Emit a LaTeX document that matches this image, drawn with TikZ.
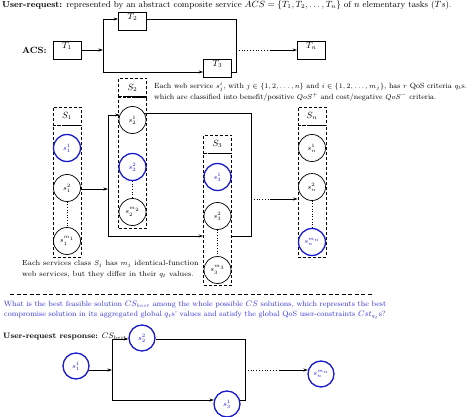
\documentclass[tikz,border=0pt]{standalone}
\usetikzlibrary{arrows.meta,calc}
\definecolor{selblue}{RGB}{25,25,205}
\definecolor{qblue}{RGB}{50,50,225}
\begin{document}
\begin{tikzpicture}[x=1pt,y=-1pt,
  tbox/.style={draw, line width=0.8pt, minimum width=28pt, minimum height=18pt, inner sep=0pt},
  hdr/.style={draw, dash pattern=on 3pt off 2pt, line width=0.8pt, minimum width=28pt, minimum height=18pt, inner sep=0pt, font=\small},
  colbox/.style={draw, dash pattern=on 3pt off 2pt, line width=0.8pt, minimum width=28pt, inner sep=0pt},
  hbar/.style={line width=1.4pt, dash pattern=on 3pt off 1.5pt},
  svc/.style={circle, draw, line width=0.7pt, minimum size=27pt, inner sep=0pt, font=\scriptsize},
  sel/.style={svc, draw=selblue, text=selblue, line width=1.3pt},
  selb/.style={sel, minimum size=26pt},
  conn/.style={line width=0.8pt},
  arr/.style={conn, -{Stealth[length=4.5pt,width=3pt]}},
  dots/.style={dotted, line width=0.8pt},
  vdots/.style={dotted, line width=0.6pt},
  sep/.style={line width=1pt, dash pattern=on 4pt off 2.5pt}
]
\useasboundingbox (0,0) rectangle (474,417);

% header text
\node[anchor=base west, inner sep=0pt, font=\fontsize{8.7}{11}\selectfont] (head) at (2,8)
  {\textbf{User-request:} represented by an abstract composite service $ACS=\{T_1,T_2,\ldots,T_n\}$ of $n$ elementary tasks ($Ts$).};

% ACS
\node[anchor=west, inner sep=0pt, font=\small\bfseries] (acs) at (22,50) {ACS:};
\node[tbox] (t1) at (67,50) {};
\node[tbox] (t2) at (132.5,21) {};
\node[tbox] (t3) at (217.5,68) {};
\node[tbox] (tn) at (311.5,50) {};
\node[font=\small] (t1l) at (67,46) {$T_1$};
\node[font=\small] (t2l) at (132.5,17) {$T_2$};
\node[font=\small] (t3l) at (217.5,64) {$T_3$};
\node[font=\small] (tnl) at (311.5,46) {$T_n$};

\coordinate (ja) at (103,19);
\coordinate (jb) at (103,72);
\coordinate (jm) at (103,50);
\coordinate (jc) at (236,19);
\coordinate (jd) at (236,72);
\coordinate (je) at (236,50);
\coordinate (jf) at (270,50);
\draw[arr] (t1.east) -- (jm);
\draw[conn] (ja) -- (jb);
\draw[arr] (ja) -- (ja -| t2.west);
\draw[arr] (jb) -- (jb -| t3.west);
\draw[conn] (t2.east |- jc) -- (jc) -- (jd) -- (t3.east |- jd);
\draw[dots] (je) -- (jf);
\draw[arr] (jf) -- (tn.west);

% text right
\node[anchor=north west, inner sep=0pt, font=\fontsize{7.5}{11}\selectfont, align=left] (note1) at (154,82)
  {Each web service $s_j^i$, with $j\in\{1,2,\ldots,n\}$ and $i\in\{1,2,\ldots,m_j\}$, has $r$ QoS criteria $q_t$s.\\
   which are classified into benefit/positive $QoS^{+}$ and cost/negative $QoS^{-}$ criteria.};

% columns
\node[colbox, minimum height=132pt] (c1) at (67,191) {};
\node[colbox, minimum height=131pt] (c2) at (132.5,162.5) {};
\node[colbox, minimum height=132pt] (c3) at (217.5,219) {};
\node[colbox, minimum height=132pt] (cn) at (312,191) {};
\node[hdr] (h1) at (67,116) {$S_1$};
\node[hdr] (h2) at (132.5,87.5) {$S_2$};
\node[hdr] (h3) at (217.5,144) {$S_3$};
\node[hdr] (hn) at (312,116) {$S_n$};
\foreach \h in {h1,h2,h3,hn} \draw[hbar] (\h.south west) -- (\h.south east);

\node[sel] (s11) at (67,148) {$s_1^1$};
\node[svc] (s12) at (67,188) {$s_1^2$};
\node[svc] (s1m) at (67,241) {$s_1^{m_1}$};
\node[svc] (s21) at (132.5,120) {$s_2^1$};
\node[sel] (s22) at (132.5,167) {$s_2^2$};
\node[svc] (s2m) at (132.5,212) {$s_2^{m_2}$};
\node[sel] (s31) at (217.5,177) {$s_3^1$};
\node[svc] (s32) at (217.5,216) {$s_3^2$};
\node[svc] (s3m) at (217.5,270) {$s_3^{m_3}$};
\node[svc] (sn1) at (312,148) {$s_n^1$};
\node[svc] (sn2) at (312,187) {$s_n^2$};
\node[sel] (snm) at (312,242) {$s_n^{m_n}$};
\draw[vdots] (s12.south) -- (s1m.north);
\draw[vdots] (s22.south) -- (s2m.north);
\draw[vdots] (s32.south) -- (s3m.north);
\draw[vdots] (sn2.south) -- (snm.north);

\coordinate (ka) at (108,115);
\coordinate (kb) at (108,236);
\coordinate (km) at (108,189);
\coordinate (kc) at (251,113);
\coordinate (kd) at (251,236);
\coordinate (ke) at (251,199);
\coordinate (kf) at (270,199);
\draw[arr] (s12.east |- km) -- (km);
\draw[conn] (ka) -- (kb);
\draw[arr] (ka) -- (ka -| s21.158);
\draw[arr] (kb) -- (kb -| c3.west);
\draw[conn] (kc -| s21.31) -- (kc) -- (kd) -- (kd -| c3.east);
\draw[dots] (ke) -- (kf);
\draw[arr] (kf) -- (kf -| cn.west);

\node[anchor=north west, inner sep=0pt, font=\fontsize{7.4}{11}\selectfont, align=left] (note2) at (22,260)
  {Each services class $S_j$ has $m_j$ identical-function\\
   web services, but they differ in their $q_t$ values.};

% separator
\coordinate (sa) at (10,294);
\coordinate (sb) at (374,294);
\draw[sep] (sa) -- (sb);

\node[anchor=north, inner sep=0pt, font=\fontsize{7.6}{10}\selectfont, align=center, text=qblue] (quest) at (195,301)
  {What is the best feasible solution $CS_{best}$ among the whole possible $CS$ solutions, which represents the best\\
   compromise solution in its aggregated global $q_t$s' values and satisfy the global QoS user-constraints $Cst_{q_t}$s?};

\node[anchor=base west, inner sep=0pt, font=\fontsize{7.8}{10}\selectfont] (resp) at (3,338)
  {\textbf{User-request response:} $CS_{\mathrm{best}}$};

% bottom graph
\node[selb] (b1) at (76,366) {$s_1^1$};
\node[selb] (b2) at (142,338) {$s_2^2$};
\node[selb] (b3) at (227,404) {$s_3^1$};
\node[selb] (bn) at (321,374) {$s_n^{m_n}$};
\coordinate (la) at (112,339);
\coordinate (lb) at (112,400);
\coordinate (lm) at (112,370);
\coordinate (lc) at (245,339);
\coordinate (ld) at (245,400);
\coordinate (le) at (245,370);
\coordinate (lf) at (280,370);
\draw[arr] (b1.-17 |- lm) -- (lm);
\draw[conn] (la) -- (lb);
\draw[arr] (la) -- (la -| b2.west);
\draw[arr] (lb) -- (lb -| b3.163);
\draw[conn] (b2.east |- lc) -- (lc) -- (ld) -- (ld -| b3.17);
\draw[dots] (le) -- (lf);
\draw[arr] (lf) -- (lf -| bn.163);
\end{tikzpicture}
\end{document}
